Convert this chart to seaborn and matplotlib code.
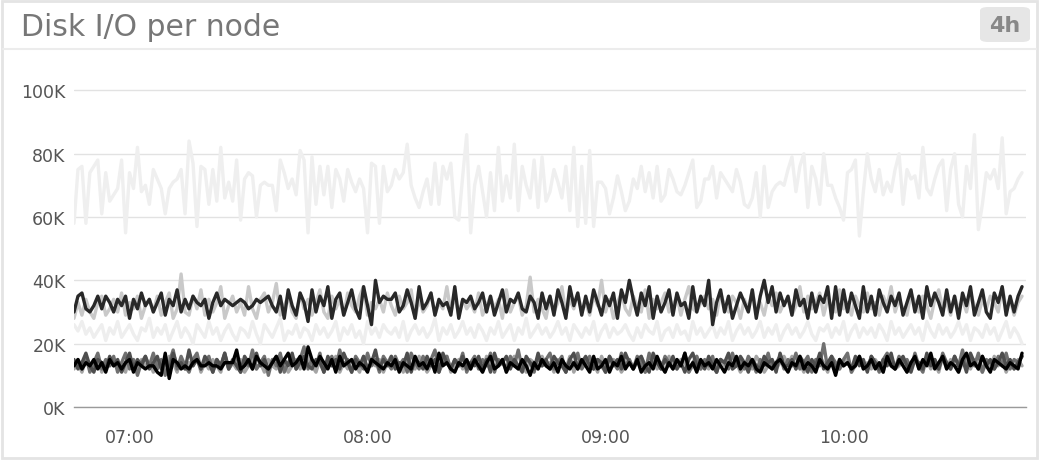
import numpy as np
import pandas as pd
import seaborn as sns
import matplotlib.pyplot as plt
import matplotlib.dates as mdates
from matplotlib.patches import FancyBboxPatch, Rectangle
from matplotlib.lines import Line2D

# one sample per minute, 06:46 -> 10:45 (values in K)
start = "2024-01-01 06:46"
n_points = 240

node_top = [
    58, 75, 76, 58, 74, 76, 78, 61, 74, 65, 67, 69, 78, 55, 74, 69, 82, 68, 70, 64,
    75, 72, 69, 61, 69, 71, 72, 75, 61, 84, 77, 57, 76, 75, 64, 75, 65, 82, 66, 71,
    65, 78, 59, 72, 74, 73, 60, 70, 71, 70, 70, 62, 78, 74, 69, 72, 67, 81, 78, 55,
    79, 64, 76, 67, 76, 63, 75, 72, 65, 75, 71, 68, 72, 69, 55, 77, 76, 58, 76, 68,
    70, 75, 72, 74, 83, 70, 66, 63, 68, 72, 64, 77, 64, 76, 72, 77, 60, 59, 73, 86,
    55, 70, 76, 68, 60, 74, 62, 82, 65, 73, 66, 83, 62, 76, 70, 66, 78, 63, 79, 65,
    68, 75, 71, 66, 76, 62, 82, 57, 76, 58, 81, 57, 71, 71, 69, 61, 66, 73, 68, 62,
    65, 72, 69, 76, 68, 74, 66, 76, 65, 67, 75, 72, 68, 67, 70, 74, 78, 63, 65, 72,
    72, 76, 66, 74, 72, 70, 68, 75, 71, 64, 63, 66, 74, 60, 76, 63, 68, 70, 71, 70,
    75, 79, 68, 76, 80, 63, 76, 72, 64, 80, 70, 70, 66, 63, 59, 74, 75, 78, 54, 68,
    80, 72, 68, 75, 67, 71, 68, 75, 80, 64, 75, 72, 73, 66, 82, 69, 67, 72, 76, 78,
    62, 75, 80, 64, 60, 76, 69, 86, 56, 64, 74, 72, 75, 69, 85, 61, 68, 69, 72, 74,
]

node_mid_light = [
    28, 33, 29, 34, 30, 28, 33, 35, 29, 31, 34, 30, 36, 29, 33, 31, 35, 28, 32, 34,
    30, 35, 29, 33, 36, 28, 31, 42, 30, 29, 35, 31, 37, 29, 34, 30, 33, 38, 28, 32,
    35, 30, 33, 29, 38, 31, 28, 34, 36, 30, 33, 39, 29, 32, 35, 30, 28, 36, 31, 34,
    29, 33, 37, 30, 28, 35, 31, 34, 29, 36, 32, 30, 35, 38, 29, 33, 31, 34, 30, 36,
    32, 29, 35, 31, 33, 37, 28, 34, 30, 32, 36, 29, 33, 31, 38, 30, 35, 29, 34, 31,
    33, 30, 36, 29, 32, 35, 31, 34, 28, 37, 30, 33, 35, 29, 32, 41, 30, 34, 31, 28,
    35, 30, 33, 38, 29, 34, 31, 36, 30, 33, 29, 35, 32, 40, 30, 34, 28, 33, 36, 31,
    29, 35, 32, 30, 37, 28, 34, 31, 33, 36, 30, 32, 35, 29, 34, 38, 31, 30, 33, 35,
    31, 34, 29, 36, 32, 30, 35, 33, 28, 34, 31, 37, 30, 33, 29, 35, 32, 36, 30, 33,
    34, 29, 32, 38, 30, 35, 31, 33, 36, 29, 34, 32, 30, 37, 31, 33, 29, 35, 32, 30,
    36, 31, 33, 29, 35, 32, 38, 30, 34, 31, 29, 36, 33, 30, 35, 32, 28, 34, 37, 31,
    33, 29, 35, 31, 34, 30, 36, 32, 29, 34, 31, 35, 33, 30, 38, 31, 34, 29, 33, 35,
]

node_mid_dark = [
    30, 35, 36, 31, 30, 32, 35, 31, 35, 33, 30, 34, 32, 35, 28, 34, 31, 36, 32, 34,
    30, 33, 36, 29, 34, 32, 37, 30, 34, 31, 35, 33, 32, 34, 28, 33, 36, 32, 34, 33,
    32, 33, 34, 33, 31, 32, 34, 33, 34, 35, 32, 30, 35, 28, 37, 32, 29, 36, 33, 27,
    37, 30, 35, 32, 38, 28, 34, 36, 29, 33, 37, 31, 28, 38, 32, 26, 40, 33, 35, 34,
    34, 36, 30, 32, 37, 33, 28, 38, 31, 33, 36, 29, 34, 32, 33, 29, 38, 28, 34, 33,
    35, 31, 33, 36, 30, 35, 29, 33, 37, 30, 34, 33, 36, 31, 30, 35, 33, 28, 36, 31,
    35, 29, 37, 33, 28, 38, 32, 36, 29, 35, 30, 37, 33, 29, 35, 32, 36, 28, 37, 33,
    40, 34, 29, 36, 32, 38, 28, 35, 30, 33, 37, 29, 36, 32, 33, 28, 38, 30, 35, 32,
    40, 26, 33, 37, 30, 35, 28, 32, 36, 33, 30, 37, 28, 35, 40, 33, 38, 30, 36, 32,
    35, 29, 37, 32, 34, 28, 36, 30, 35, 33, 38, 28, 38, 29, 37, 30, 36, 32, 28, 38,
    30, 35, 29, 37, 33, 30, 35, 32, 36, 29, 33, 37, 30, 35, 28, 38, 32, 36, 33, 29,
    37, 30, 35, 28, 36, 32, 38, 29, 33, 37, 30, 28, 36, 33, 38, 29, 35, 30, 35, 38,
]

node_low_faint = [
    26, 24, 27, 23, 25, 22, 24, 26, 21, 25, 23, 27, 22, 24, 26, 23, 21, 25, 24, 28,
    22, 25, 23, 26, 21, 24, 27, 22, 25, 23, 20, 26, 24, 22, 27, 23, 25, 21, 24, 26,
    23, 21, 25, 24, 22, 27, 23, 20, 26, 24, 22, 25, 28, 21, 24, 23, 26, 22, 25, 24,
    21, 26, 23, 25, 22, 24, 27, 21, 25, 23, 26, 22, 24, 20, 27, 23, 25, 22, 26, 24,
    23, 25, 22, 27, 21, 24, 26, 23, 25, 22, 24, 28, 21, 25, 23, 26, 22, 24, 27, 23,
    25, 22, 26, 24, 21, 25, 23, 27, 22, 24, 26, 21, 25, 23, 28, 22, 24, 26, 23, 25,
    22, 24, 27, 23, 25, 21, 26, 24, 22, 25, 23, 27, 21, 24, 26, 22, 25, 23, 24, 26,
    23, 21, 25, 22, 26, 24, 23, 27, 21, 24, 25, 22, 26, 23, 24, 21, 27, 23, 25, 22,
    24, 26, 22, 25, 23, 27, 21, 24, 26, 23, 25, 22, 24, 27, 22, 25, 23, 26, 21, 24,
    26, 23, 25, 22, 24, 27, 23, 21, 25, 24, 26, 22, 25, 23, 27, 21, 24, 26, 22, 25,
    23, 25, 22, 26, 24, 21, 27, 23, 25, 22, 24, 26, 23, 25, 21, 27, 24, 22, 26, 23,
    25, 22, 24, 27, 23, 26, 21, 25, 24, 22, 26, 23, 25, 21, 24, 27, 22, 25, 23, 20,
]

node_low_light = [
    12, 14, 11, 15, 13, 12, 16, 11, 14, 13, 15, 12, 14, 11, 16, 13, 12, 15, 13, 14,
    11, 15, 13, 12, 16, 14, 11, 15, 12, 14, 13, 16, 11, 14, 12, 15, 13, 11, 16, 12,
    14, 12, 15, 11, 13, 16, 12, 14, 11, 15, 13, 12, 16, 14, 11, 13, 15, 12, 14, 16,
    13, 11, 15, 12, 14, 13, 16, 11, 14, 12, 15, 13, 11, 16, 12, 14, 13, 15, 11, 14,
    16, 12, 14, 11, 15, 13, 12, 16, 14, 11, 13, 15, 12, 14, 16, 11, 13, 15, 12, 14,
    12, 15, 13, 11, 16, 14, 12, 13, 15, 11, 14, 16, 12, 13, 11, 15, 14, 12, 16, 13,
    14, 11, 15, 13, 12, 16, 11, 14, 13, 15, 12, 14, 11, 16, 13, 12, 15, 14, 11, 13,
    15, 12, 14, 16, 11, 13, 15, 12, 14, 11, 16, 13, 12, 15, 14, 11, 13, 16, 12, 14,
    12, 14, 11, 15, 13, 16, 12, 14, 11, 13, 15, 12, 16, 14, 11, 13, 15, 12, 14, 16,
    13, 16, 12, 14, 11, 15, 13, 12, 16, 14, 11, 15, 13, 12, 14, 16, 11, 13, 15, 12,
    14, 12, 15, 13, 11, 16, 14, 12, 13, 15, 11, 14, 16, 12, 13, 15, 12, 14, 11, 16,
    12, 15, 13, 11, 14, 16, 12, 15, 13, 11, 14, 12, 16, 13, 15, 11, 14, 12, 15, 13,
]

node_low_mid = [
    13, 15, 12, 16, 11, 14, 17, 12, 15, 13, 16, 11, 14, 17, 12, 15, 10, 14, 16, 13,
    17, 12, 15, 10, 14, 18, 12, 16, 13, 11, 15, 17, 12, 14, 16, 11, 15, 13, 17, 12,
    14, 16, 11, 15, 13, 18, 12, 14, 16, 10, 15, 13, 17, 11, 14, 16, 12, 15, 19, 12,
    15, 13, 17, 11, 14, 16, 12, 18, 13, 15, 11, 16, 14, 12, 17, 13, 15, 11, 16, 14,
    12, 16, 13, 15, 11, 17, 14, 12, 16, 13, 15, 18, 11, 14, 16, 12, 15, 13, 17, 11,
    14, 16, 12, 15, 13, 17, 11, 15, 14, 12, 16, 13, 18, 12, 15, 14, 11, 16, 13, 15,
    17, 12, 14, 16, 11, 15, 13, 17, 12, 14, 16, 12, 15, 13, 11, 16, 14, 12, 17, 13,
    15, 12, 16, 14, 11, 17, 13, 15, 12, 16, 14, 12, 15, 13, 17, 11, 14, 16, 12, 15,
    13, 16, 11, 15, 14, 12, 17, 13, 15, 12, 16, 14, 11, 15, 13, 17, 12, 14, 16, 12,
    15, 13, 17, 12, 14, 16, 11, 15, 13, 20, 12, 16, 14, 12, 15, 17, 11, 14, 16, 13,
    12, 16, 14, 11, 15, 17, 13, 12, 16, 14, 15, 12, 17, 13, 11, 16, 14, 15, 12, 17,
    14, 12, 16, 13, 18, 12, 15, 13, 17, 11, 15, 14, 12, 16, 13, 17, 12, 15, 14, 16,
]

node_low_dark = [
    15, 12, 14, 17, 13, 11, 15, 14, 12, 16, 13, 15, 11, 14, 17, 12, 15, 13, 16, 12,
    14, 16, 12, 15, 11, 17, 13, 14, 12, 18, 13, 15, 12, 16, 14, 11, 15, 13, 17, 12,
    15, 13, 11, 16, 14, 12, 17, 13, 15, 12, 14, 16, 11, 15, 13, 17, 12, 14, 16, 13,
    12, 15, 14, 11, 16, 13, 15, 12, 17, 14, 11, 15, 13, 16, 12, 14, 18, 12, 15, 13,
    16, 12, 14, 13, 17, 11, 15, 14, 12, 16, 13, 15, 11, 17, 14, 12, 15, 13, 16, 12,
    14, 13, 16, 12, 15, 11, 17, 13, 14, 16, 12, 15, 13, 11, 16, 14, 12, 17, 13, 15,
    12, 16, 14, 13, 11, 15, 17, 12, 14, 16, 13, 12, 15, 14, 11, 16, 13, 15, 12, 17,
    14, 12, 15, 16, 13, 11, 17, 14, 12, 15, 13, 16, 12, 14, 11, 15, 17, 13, 14, 12,
    16, 13, 11, 15, 14, 17, 12, 13, 16, 14, 11, 15, 13, 12, 16, 14, 15, 11, 17, 13,
    13, 15, 12, 16, 14, 11, 15, 13, 17, 12, 14, 16, 11, 15, 13, 14, 12, 16, 13, 15,
    11, 16, 14, 12, 15, 13, 17, 12, 14, 16, 13, 11, 15, 14, 12, 17, 13, 15, 12, 16,
    14, 12, 16, 13, 15, 11, 17, 14, 12, 16, 13, 15, 12, 14, 17, 13, 15, 12, 14, 16,
]

node_low_black = [
    13, 15, 12, 14, 13, 15, 12, 14, 11, 15, 13, 14, 12, 14, 15, 11, 14, 13, 12, 13,
    13, 11, 10, 17, 9, 15, 14, 12, 13, 12, 14, 15, 13, 13, 14, 13, 13, 12, 14, 14,
    14, 18, 12, 13, 15, 12, 16, 14, 13, 12, 14, 16, 13, 15, 17, 13, 14, 16, 12, 19,
    15, 13, 16, 14, 12, 15, 11, 16, 13, 14, 15, 12, 14, 13, 11, 15, 14, 13, 12, 14,
    13, 15, 11, 14, 13, 12, 16, 13, 14, 12, 15, 11, 17, 13, 14, 12, 11, 14, 13, 15,
    12, 15, 13, 11, 14, 16, 12, 13, 15, 11, 14, 13, 12, 15, 13, 10, 14, 12, 15, 13,
    12, 14, 11, 15, 13, 12, 14, 12, 15, 13, 11, 16, 12, 13, 15, 11, 14, 13, 16, 12,
    14, 12, 15, 11, 13, 14, 12, 16, 13, 11, 14, 12, 15, 13, 17, 12, 14, 11, 15, 13,
    14, 12, 15, 13, 11, 14, 13, 16, 12, 14, 13, 15, 12, 11, 14, 13, 12, 14, 15, 13,
    11, 14, 13, 16, 12, 14, 13, 11, 15, 13, 12, 14, 10, 15, 13, 14, 12, 13, 16, 12,
    13, 15, 12, 14, 11, 16, 13, 12, 15, 13, 11, 14, 16, 12, 15, 13, 17, 12, 14, 16,
    12, 14, 13, 11, 15, 17, 13, 14, 12, 16, 13, 11, 15, 14, 13, 12, 14, 13, 12, 17,
]

# drawing order = back to front
series = {
    "node-1": node_top,
    "node-2": node_low_faint,
    "node-3": node_mid_light,
    "node-4": node_mid_dark,
    "node-5": node_low_light,
    "node-6": node_low_mid,
    "node-7": node_low_dark,
    "node-8": node_low_black,
}
colors = {
    "node-1": "#efefef",
    "node-2": "#eeeeee",
    "node-3": "#c9c9c9",
    "node-4": "#282828",
    "node-5": "#a5a5a5",
    "node-6": "#707070",
    "node-7": "#4e4e4e",
    "node-8": "#000000",
}

times = pd.date_range(start, periods=n_points, freq="1min")
df = pd.concat(
    [pd.DataFrame({"time": times, "node": k, "value": np.array(v) * 1000})
     for k, v in series.items()],
    ignore_index=True,
)

sns.set_style("white")
plt.rcParams["font.family"] = ["DejaVu Sans"]

fig = plt.figure(figsize=(10.4, 4.64), dpi=100)
ax = fig.add_axes([74 / 1040, 1 - 408 / 464, 952 / 1040, (408 - 66) / 464])

sns.lineplot(data=df, x="time", y="value", hue="node", hue_order=list(series),
             palette=colors, linewidth=2.4, estimator=None, legend=False, ax=ax)

ax.set_xlim(pd.Timestamp("2024-01-01 06:46"), pd.Timestamp("2024-01-01 10:46"))
ax.set_ylim(0, 108000)
ax.set_yticks(range(0, 100001, 20000))
ax.yaxis.set_major_formatter(lambda v, p: f"{int(v / 1000)}K")
ax.xaxis.set_major_locator(mdates.HourLocator())
ax.xaxis.set_minor_locator(mdates.MinuteLocator(byminute=[30]))
ax.xaxis.set_major_formatter(mdates.DateFormatter("%H:%M"))
ax.set_xlabel("")
ax.set_ylabel("")

ax.yaxis.grid(True, color="#e2e2e2", linewidth=1)
ax.set_axisbelow(True)
for side in ["top", "right", "left"]:
    ax.spines[side].set_visible(False)
ax.spines["bottom"].set_color("#9a9a9a")
ax.spines["bottom"].set_linewidth(1)

ax.tick_params(axis="y", length=0, pad=6, labelsize=12.5, labelcolor="#555555")
ax.tick_params(axis="x", which="major", length=8, width=1, color="#333333",
               pad=7, labelsize=12.5, labelcolor="#555555")
ax.tick_params(axis="x", which="minor", length=4, width=0.8, color="#aaaaaa")

# card frame, header and time badge
fig.add_artist(Rectangle((1.5 / 1040, 5 / 464), 1035 / 1040, 457 / 464,
                         transform=fig.transFigure, fill=False,
                         edgecolor="#e4e4e4", linewidth=2))
fig.add_artist(Line2D([3 / 1040, 1036 / 1040], [1 - 50 / 464] * 2,
                      transform=fig.transFigure, color="#ececec", linewidth=1.5))
fig.text(21 / 1040, 1 - 27 / 464, "Disk I/O per node", fontsize=21.5,
         color="#777777", va="center", ha="left")
fig.add_artist(FancyBboxPatch((980 / 1040, 1 - 43 / 464), 50 / 1040, 35 / 464,
                              boxstyle="round,pad=0,rounding_size=0.008",
                              transform=fig.transFigure, facecolor="#e6e6e6",
                              edgecolor="none"))
fig.text(1005 / 1040, 1 - 26 / 464, "4h", fontsize=16, color="#888888",
         fontweight="semibold", va="center", ha="center")

fig.savefig("out.png", dpi=100)
